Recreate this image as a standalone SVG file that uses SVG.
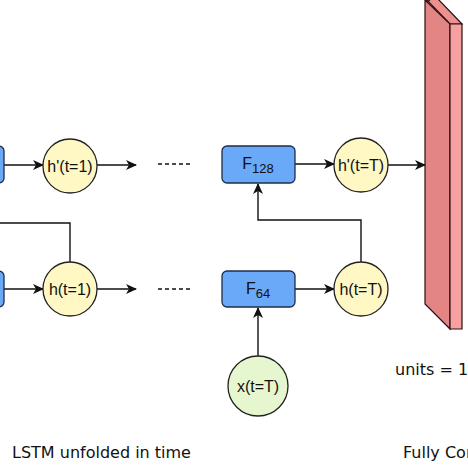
<svg xmlns="http://www.w3.org/2000/svg" width="468" height="468" viewBox="0 0 468 468">
<style>
.box{fill:#6AA8F8;stroke:#1E2E4A;stroke-width:1.3}
.hc{fill:#FFF8C4;stroke:#222;stroke-width:1.3}
.xc{fill:#E6F7CF;stroke:#222;stroke-width:1.3}
.lbl{font-family:"Liberation Sans",Arial,sans-serif;font-size:16px;fill:#111;text-anchor:middle}
.cap{font-family:"DejaVu Sans",Verdana,sans-serif;font-size:16px;fill:#111}
.ln{fill:none;stroke:#111;stroke-width:1.4}
.dash{fill:none;stroke:#111;stroke-width:1.4;stroke-dasharray:4 3}
</style>
<defs>
<marker id="ah" markerWidth="11" markerHeight="10" refX="10" refY="5" orient="auto" markerUnits="userSpaceOnUse">
<path d="M0,0 L11,5 L0,10 L3,5 z" fill="#111"/>
</marker>
</defs>
<rect width="468" height="468" fill="#fff"/>
<g id="dense">
<polygon points="425,-2 437,-2 462,24 450,24" fill="#EE9090" stroke="#2a1010" stroke-width="1.2"/>
<polygon points="425,-2 432,-2 428,3 425,3" fill="#4a2020"/>
<polygon points="425,0 450,24 450,329 425,304" fill="#E48585" stroke="#2a1010" stroke-width="1.2"/>
<polygon points="450,24 462,24 462,329 450,329" fill="#F7A0A0" stroke="#2a1010" stroke-width="1.2"/>
</g>
<g id="connectors">
<line class="ln" x1="4" y1="165" x2="43" y2="165" marker-end="url(#ah)"/>
<line class="ln" x1="97" y1="165" x2="136" y2="165" marker-end="url(#ah)"/>
<line class="ln" x1="295" y1="164" x2="334" y2="164" marker-end="url(#ah)"/>
<line class="ln" x1="388" y1="165" x2="425" y2="165" marker-end="url(#ah)"/>
<line class="ln" x1="4" y1="289" x2="43" y2="289" marker-end="url(#ah)"/>
<line class="ln" x1="97" y1="289" x2="136" y2="289" marker-end="url(#ah)"/>
<line class="ln" x1="295" y1="289" x2="334" y2="289" marker-end="url(#ah)"/>
<path class="ln" d="M361,262 V220 H258 V184" marker-end="url(#ah)"/>
<line class="ln" x1="258" y1="356" x2="258" y2="308" marker-end="url(#ah)"/>
<path class="ln" d="M70,262 V223 H0"/>
<line class="dash" x1="158" y1="164" x2="193" y2="164"/>
<line class="dash" x1="158" y1="289" x2="193" y2="289"/>
</g>
<g id="f128-t1"><rect class="box" x="-69" y="146" width="73" height="37" rx="5"/></g>
<g id="f64-t1"><rect class="box" x="-69" y="271" width="73" height="36" rx="5"/></g>
<g id="hp-t1"><circle class="hc" cx="70" cy="166" r="27"/><text class="lbl" x="70" y="172">h'(t=1)</text></g>
<g id="h-t1"><circle class="hc" cx="70" cy="289" r="27"/><text class="lbl" x="70" y="295">h(t=1)</text></g>
<g id="f128"><rect class="box" x="222" y="146" width="73" height="37" rx="5"/><text class="lbl" x="258" y="169" font-size="17">F<tspan font-size="13" dy="4">128</tspan></text></g>
<g id="f64"><rect class="box" x="222" y="271" width="73" height="36" rx="5"/><text class="lbl" x="258" y="294" font-size="17">F<tspan font-size="13" dy="4">64</tspan></text></g>
<g id="hp-tT"><circle class="hc" cx="361" cy="165" r="27"/><text class="lbl" x="361" y="171">h'(t=T)</text></g>
<g id="h-tT"><circle class="hc" cx="361" cy="289" r="27"/><text class="lbl" x="361" y="295">h(t=T)</text></g>
<g id="x-tT"><circle class="xc" cx="258" cy="386" r="30"/><text class="lbl" x="258" y="392" font-size="15">x(t=T)</text></g>
<text class="cap" x="395" y="375">units = 1</text>
<text class="cap" x="12" y="458" font-size="17">LSTM unfolded in time</text>
<text class="cap" x="403" y="458" font-size="17">Fully Connected</text>
</svg>
